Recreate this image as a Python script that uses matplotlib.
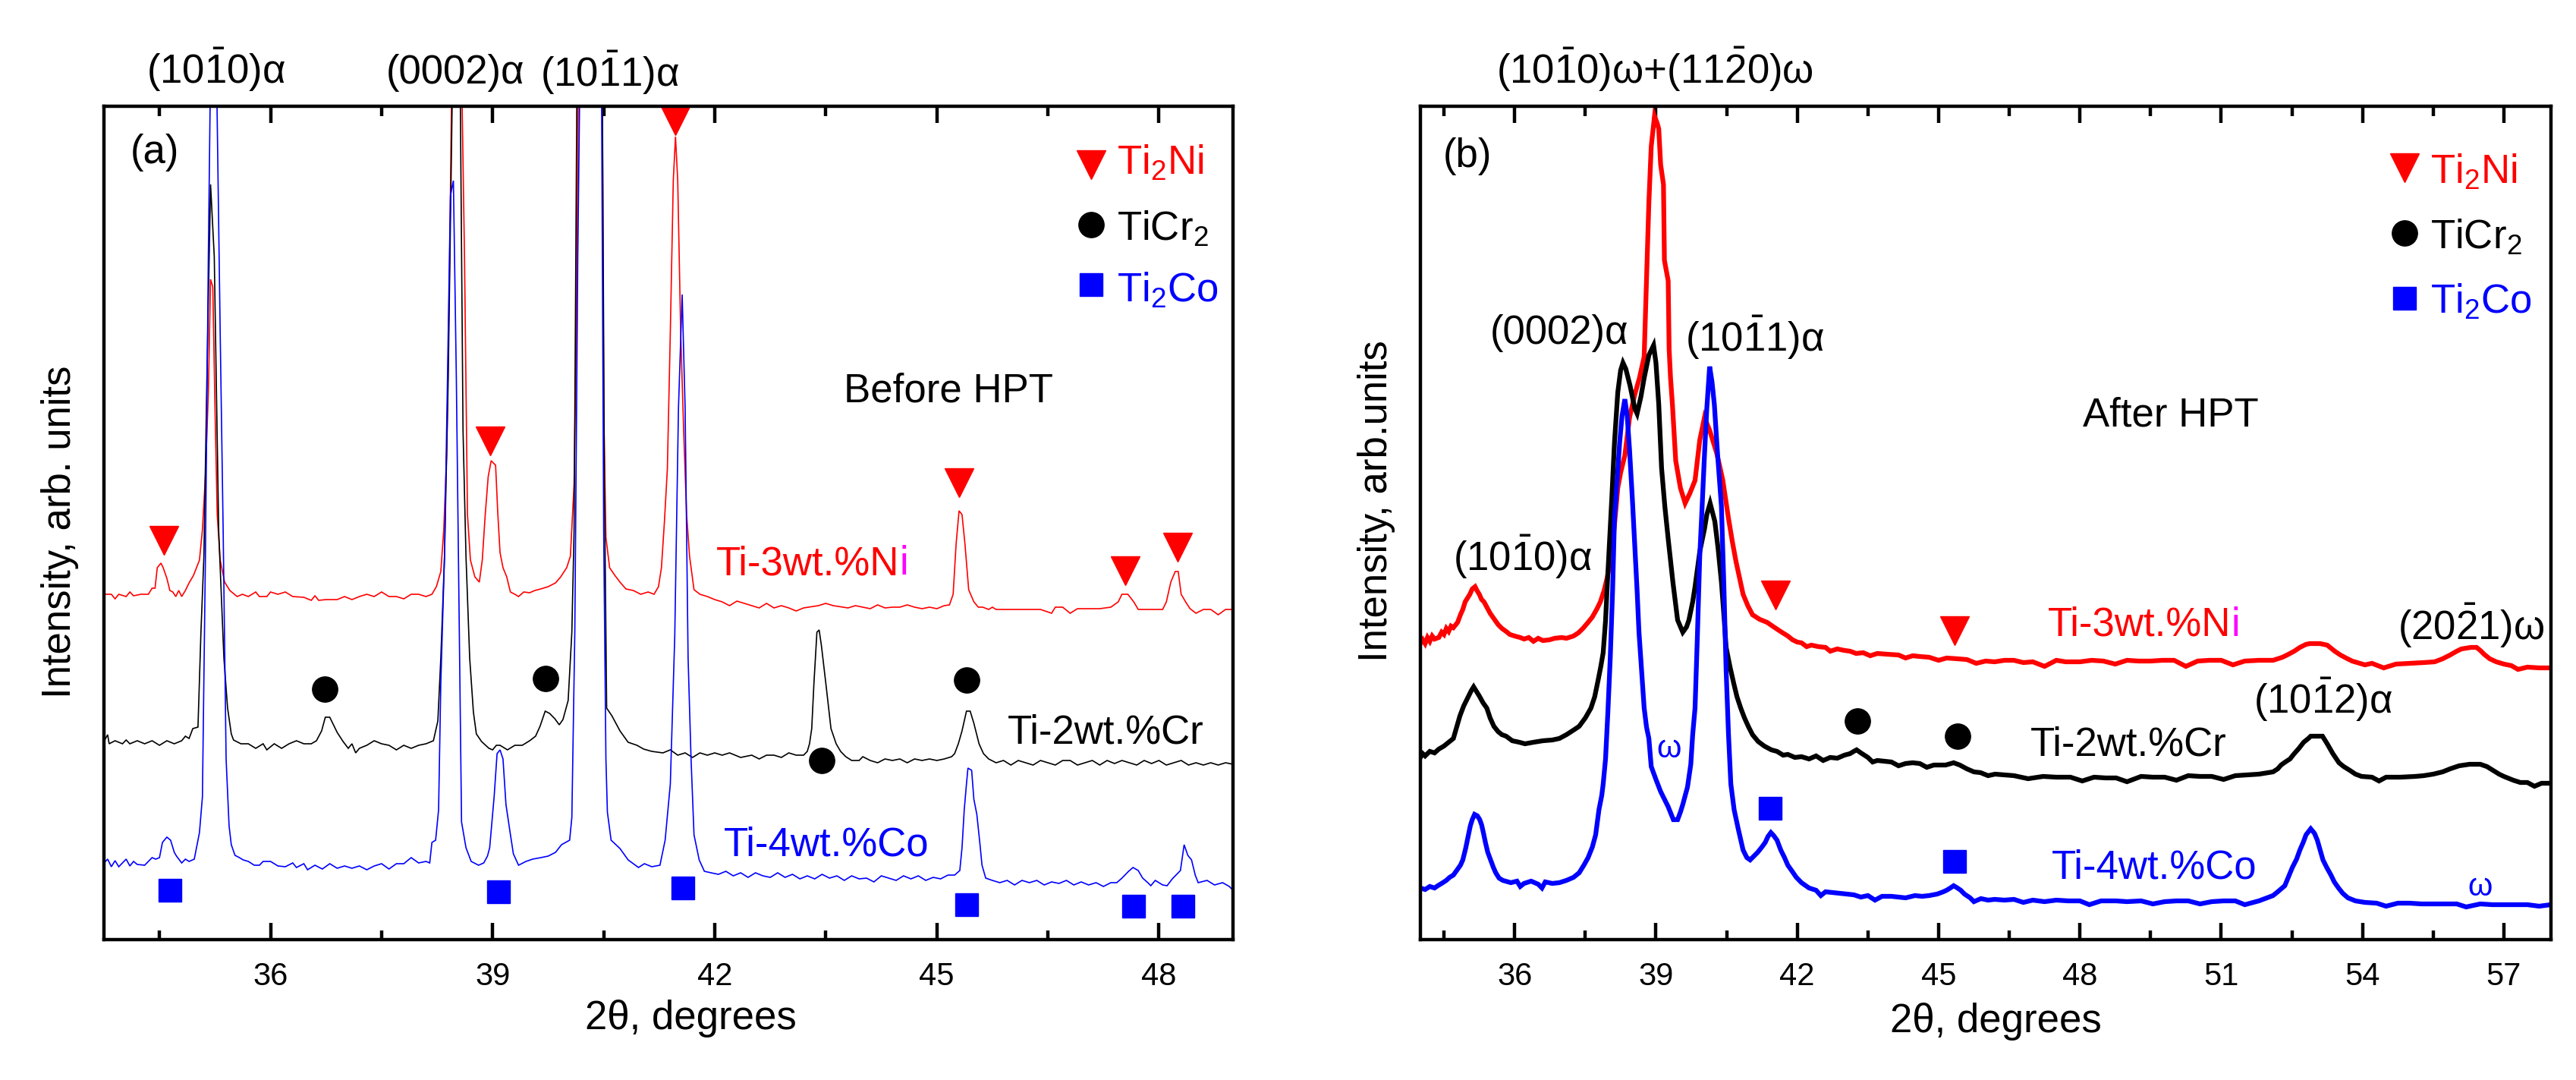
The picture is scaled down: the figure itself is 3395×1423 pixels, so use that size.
import numpy as np
import matplotlib
matplotlib.use("Agg")
import matplotlib.pyplot as plt

# XRD patterns of Ti alloys before (a) and after (b) HPT.
# x = 2theta (degrees), y = intensity in arbitrary units (curves offset, tops clipped)

RED = "#ff0000"
BLUE = "#0000ff"
MAGENTA = "#ff00ff"

# ---------------- panel (a): before HPT ----------------
a_ni = [(33.75, 455), (33.85, 455), (33.9, 449), (33.95, 455), (34.05, 452), (34.1, 458), (34.15, 453),
        (34.25, 455), (34.35, 455), (34.4, 463), (34.44, 463), (34.47, 490), (34.52, 496), (34.55, 490),
        (34.6, 476), (34.64, 460), (34.68, 458), (34.72, 452), (34.76, 460), (34.8, 452), (34.85, 460),
        (34.9, 470), (34.96, 480), (35.04, 500), (35.08, 540), (35.12, 610), (35.16, 720), (35.19, 870),
        (35.22, 860), (35.25, 700), (35.28, 560), (35.32, 500), (35.38, 471), (35.45, 460), (35.55, 452),
        (35.62, 455), (35.7, 452), (35.8, 458), (35.85, 452), (35.95, 452), (36.0, 458), (36.1, 455),
        (36.2, 458), (36.3, 452), (36.45, 451), (36.55, 447), (36.6, 453), (36.65, 447), (36.75, 448),
        (36.9, 448), (37.0, 452), (37.1, 448), (37.2, 452), (37.3, 455), (37.4, 452), (37.5, 458),
        (37.6, 452), (37.7, 452), (37.8, 449), (37.9, 455), (38.0, 455), (38.1, 452), (38.18, 455),
        (38.24, 465), (38.3, 485), (38.34, 540), (38.38, 640), (38.42, 900), (38.45, 1150), (38.58, 1150),
        (38.62, 900), (38.66, 560), (38.7, 500), (38.76, 478), (38.82, 471), (38.86, 500), (38.9, 560),
        (38.94, 610), (38.98, 631), (39.04, 625), (39.07, 561), (39.1, 510), (39.14, 490), (39.19, 478),
        (39.24, 458), (39.3, 455), (39.35, 452), (39.42, 458), (39.5, 457), (39.57, 460), (39.65, 462),
        (39.75, 465), (39.85, 470), (39.92, 478), (40.0, 490), (40.05, 505), (40.1, 600), (40.13, 800),
        (40.16, 1150), (40.48, 1150), (40.5, 700), (40.53, 530), (40.58, 490), (40.65, 480), (40.72, 471),
        (40.8, 462), (40.9, 460), (41.0, 455), (41.1, 458), (41.18, 455), (41.24, 465), (41.28, 490),
        (41.32, 550), (41.36, 620), (41.4, 800), (41.44, 1000), (41.47, 1058), (41.5, 1000), (41.54, 800),
        (41.58, 671), (41.62, 560), (41.66, 505), (41.72, 461), (41.8, 455), (41.9, 452), (42.0, 448),
        (42.1, 445), (42.2, 440), (42.3, 446), (42.4, 443), (42.5, 440), (42.6, 437), (42.7, 443),
        (42.8, 437), (42.9, 440), (43.0, 437), (43.1, 433), (43.2, 437), (43.4, 440), (43.5, 443),
        (43.6, 440), (43.8, 437), (43.9, 440), (44.0, 438), (44.1, 436), (44.2, 441), (44.3, 437),
        (44.4, 438), (44.5, 438), (44.6, 441), (44.7, 438), (44.8, 436), (44.9, 438), (45.0, 436),
        (45.1, 440), (45.17, 441), (45.22, 455), (45.26, 521), (45.3, 565), (45.34, 560), (45.38, 521),
        (45.43, 461), (45.5, 445), (45.56, 438), (45.62, 438), (45.7, 435), (45.75, 438), (45.8, 435),
        (46.0, 435), (46.2, 435), (46.4, 435), (46.55, 430), (46.6, 438), (46.7, 438), (46.8, 430),
        (46.9, 436), (47.0, 436), (47.2, 436), (47.35, 438), (47.45, 445), (47.5, 455), (47.58, 455),
        (47.66, 445), (47.72, 435), (47.9, 435), (48.05, 435), (48.1, 445), (48.16, 471), (48.22, 485),
        (48.26, 485), (48.3, 455), (48.36, 445), (48.42, 436), (48.5, 430), (48.6, 435), (48.7, 435),
        (48.8, 428), (48.9, 435), (49.0, 435)]

a_cr = [(33.75, 261), (33.8, 270), (33.82, 258), (33.9, 262), (34.0, 258), (34.05, 263), (34.1, 258),
        (34.2, 262), (34.3, 258), (34.4, 262), (34.5, 256), (34.6, 262), (34.7, 258), (34.8, 262),
        (34.85, 268), (34.9, 265), (34.95, 278), (35.02, 280), (35.06, 405), (35.1, 505), (35.14, 738),
        (35.19, 995), (35.24, 900), (35.3, 538), (35.37, 371), (35.42, 305), (35.47, 271), (35.5, 263),
        (35.6, 258), (35.7, 258), (35.8, 252), (35.9, 258), (35.95, 250), (36.05, 258), (36.15, 252),
        (36.25, 258), (36.35, 262), (36.45, 258), (36.55, 258), (36.62, 262), (36.69, 275), (36.74, 293),
        (36.8, 293), (36.86, 281), (36.9, 273), (36.98, 261), (37.05, 252), (37.1, 258), (37.15, 246),
        (37.2, 252), (37.3, 256), (37.4, 262), (37.5, 258), (37.6, 256), (37.7, 250), (37.8, 256),
        (37.9, 252), (38.0, 256), (38.1, 258), (38.2, 262), (38.26, 288), (38.3, 371), (38.35, 505),
        (38.4, 738), (38.46, 1150), (38.56, 1150), (38.6, 671), (38.64, 505), (38.69, 371), (38.74, 300),
        (38.78, 271), (38.85, 261), (38.95, 252), (39.0, 250), (39.05, 256), (39.1, 256), (39.2, 250),
        (39.3, 256), (39.4, 256), (39.5, 262), (39.58, 268), (39.64, 281), (39.71, 301), (39.77, 298),
        (39.84, 291), (39.9, 283), (39.95, 290), (40.02, 315), (40.07, 405), (40.1, 538), (40.14, 1150),
        (40.48, 1150), (40.51, 600), (40.54, 305), (40.61, 295), (40.72, 275), (40.83, 260), (40.95, 256),
        (41.04, 251), (41.15, 248), (41.3, 246), (41.4, 250), (41.5, 243), (41.6, 246), (41.7, 240),
        (41.8, 246), (41.9, 243), (42.0, 246), (42.1, 243), (42.2, 246), (42.35, 240), (42.5, 243),
        (42.6, 238), (42.7, 243), (42.8, 243), (42.9, 240), (43.0, 246), (43.1, 243), (43.2, 243),
        (43.25, 248), (43.28, 258), (43.31, 278), (43.34, 338), (43.38, 405), (43.41, 408), (43.44, 388),
        (43.5, 338), (43.57, 278), (43.64, 258), (43.7, 248), (43.77, 241), (43.85, 236), (43.95, 236),
        (44.0, 241), (44.1, 236), (44.2, 233), (44.3, 238), (44.4, 236), (44.5, 238), (44.6, 233),
        (44.7, 238), (44.8, 236), (44.9, 238), (45.0, 236), (45.1, 238), (45.2, 241), (45.24, 245),
        (45.29, 258), (45.34, 275), (45.4, 301), (45.45, 301), (45.5, 285), (45.57, 258), (45.63, 245),
        (45.7, 238), (45.8, 233), (45.9, 236), (46.0, 230), (46.1, 236), (46.2, 233), (46.3, 230),
        (46.4, 236), (46.5, 233), (46.6, 230), (46.7, 236), (46.8, 236), (46.9, 230), (47.0, 233),
        (47.1, 236), (47.2, 230), (47.3, 236), (47.4, 232), (47.5, 236), (47.6, 233), (47.7, 230),
        (47.8, 236), (47.9, 232), (48.0, 236), (48.1, 230), (48.2, 233), (48.3, 236), (48.4, 230),
        (48.5, 233), (48.6, 230), (48.7, 233), (48.8, 230), (48.9, 233), (49.0, 231)]

a_co = [(33.75, 101), (33.8, 106), (33.85, 96), (33.9, 104), (33.95, 96), (34.0, 101), (34.05, 106),
        (34.1, 97), (34.15, 103), (34.2, 99), (34.3, 98), (34.35, 103), (34.4, 108), (34.45, 106),
        (34.5, 108), (34.54, 128), (34.6, 135), (34.65, 131), (34.7, 115), (34.73, 110), (34.8, 101),
        (34.85, 106), (34.9, 103), (34.97, 106), (35.04, 141), (35.08, 188), (35.12, 500), (35.16, 900),
        (35.19, 1150), (35.27, 1150), (35.32, 800), (35.36, 540), (35.4, 238), (35.44, 150), (35.47, 125),
        (35.52, 111), (35.58, 108), (35.63, 105), (35.7, 103), (35.78, 98), (35.85, 98), (35.9, 103),
        (36.0, 103), (36.1, 97), (36.2, 96), (36.3, 101), (36.35, 95), (36.45, 100), (36.5, 92),
        (36.6, 98), (36.7, 93), (36.8, 100), (36.9, 94), (37.0, 97), (37.1, 94), (37.2, 97), (37.3, 92),
        (37.4, 97), (37.5, 100), (37.6, 93), (37.7, 100), (37.8, 100), (37.9, 108), (38.0, 101),
        (38.1, 103), (38.15, 101), (38.18, 128), (38.23, 131), (38.27, 171), (38.3, 338), (38.35, 505),
        (38.39, 738), (38.43, 980), (38.47, 1000), (38.51, 738), (38.55, 405), (38.58, 155), (38.64, 121),
        (38.71, 103), (38.81, 98), (38.88, 101), (38.93, 110), (38.96, 121), (39.02, 188), (39.06, 245),
        (39.1, 250), (39.14, 238), (39.18, 178), (39.23, 145), (39.28, 113), (39.35, 98), (39.45, 103),
        (39.54, 106), (39.65, 108), (39.75, 110), (39.85, 115), (39.93, 125), (40.04, 131), (40.07, 161),
        (40.11, 405), (40.15, 900), (40.18, 1150), (40.47, 1150), (40.5, 538), (40.53, 238), (40.55, 168),
        (40.6, 131), (40.72, 120), (40.83, 105), (40.97, 95), (41.05, 100), (41.15, 96), (41.26, 98),
        (41.33, 131), (41.4, 205), (41.46, 400), (41.51, 700), (41.56, 850), (41.6, 700), (41.64, 371),
        (41.68, 238), (41.72, 138), (41.79, 105), (41.86, 90), (41.95, 88), (42.05, 86), (42.15, 90),
        (42.25, 84), (42.35, 88), (42.45, 82), (42.55, 88), (42.65, 84), (42.75, 82), (42.85, 88),
        (42.95, 82), (43.05, 86), (43.15, 80), (43.25, 84), (43.35, 80), (43.45, 86), (43.55, 81),
        (43.65, 84), (43.75, 78), (43.85, 84), (43.95, 80), (44.05, 81), (44.15, 76), (44.25, 84),
        (44.35, 81), (44.45, 78), (44.55, 84), (44.65, 80), (44.75, 84), (44.85, 78), (44.95, 82),
        (45.05, 80), (45.15, 85), (45.24, 85), (45.31, 91), (45.34, 121), (45.37, 171), (45.4, 205),
        (45.42, 226), (45.47, 223), (45.5, 185), (45.54, 165), (45.58, 128), (45.61, 98), (45.66, 81),
        (45.75, 78), (45.85, 75), (45.95, 78), (46.05, 72), (46.15, 78), (46.25, 75), (46.35, 78),
        (46.45, 72), (46.55, 76), (46.65, 74), (46.75, 78), (46.85, 72), (46.95, 76), (47.05, 72),
        (47.15, 75), (47.25, 70), (47.35, 75), (47.43, 75), (47.5, 81), (47.59, 90), (47.65, 95),
        (47.72, 91), (47.78, 81), (47.85, 75), (47.89, 71), (47.95, 78), (48.05, 72), (48.11, 71),
        (48.18, 80), (48.23, 85), (48.29, 91), (48.34, 125), (48.39, 111), (48.44, 105), (48.49, 85),
        (48.53, 75), (48.65, 78), (48.75, 72), (48.86, 75), (48.95, 70), (49.0, 65)]

# phase markers in (a)
a_ti2ni = [(34.56, 526), (38.97, 657), (41.47, 1079), (45.30, 602), (47.54, 486), (48.25, 517)]
a_ticr2 = [(36.73, 330), (39.71, 344), (43.45, 236), (45.40, 342)]
a_ti2co = [(34.64, 65), (39.08, 63), (41.57, 68), (45.40, 46), (47.66, 44), (48.32, 44)]

# ---------------- panel (b): after HPT ----------------
b_ni = [(34.0, 390), (34.05, 395), (34.1, 390), (34.15, 398), (34.2, 393), (34.25, 400), (34.3, 396),
        (34.39, 398), (34.45, 405), (34.5, 402), (34.55, 410), (34.6, 406), (34.65, 413), (34.7, 411),
        (34.79, 418), (34.85, 428), (34.9, 435), (34.95, 445), (35.0, 450), (35.05, 455), (35.1, 462),
        (35.16, 465), (35.2, 460), (35.25, 455), (35.3, 448), (35.35, 445), (35.41, 438), (35.48, 430),
        (35.56, 423), (35.65, 415), (35.73, 410), (35.82, 406), (35.9, 402), (36.0, 400), (36.12, 398),
        (36.2, 396), (36.3, 398), (36.4, 393), (36.5, 397), (36.6, 394), (36.74, 395), (36.85, 397),
        (37.0, 398), (37.1, 397), (37.25, 400), (37.35, 404), (37.45, 410), (37.56, 418), (37.65, 425),
        (37.75, 436), (37.82, 445), (37.9, 460), (37.97, 478), (38.03, 500), (38.08, 521), (38.14, 560),
        (38.19, 595), (38.25, 615), (38.34, 638), (38.44, 688), (38.55, 718), (38.65, 740), (38.75, 768),
        (38.8, 871), (38.85, 971), (38.9, 1045), (38.97, 1085), (39.03, 1075), (39.06, 1068), (39.1, 1021),
        (39.16, 995), (39.18, 895), (39.26, 868), (39.28, 778), (39.31, 740), (39.35, 705), (39.42, 631),
        (39.52, 595), (39.62, 575), (39.72, 588), (39.83, 605), (39.93, 658), (40.03, 688), (40.14, 671),
        (40.22, 655), (40.29, 641), (40.36, 622), (40.42, 605), (40.54, 555), (40.62, 525), (40.7, 498),
        (40.78, 475), (40.85, 455), (40.95, 440), (41.05, 428), (41.2, 422), (41.36, 418), (41.5, 412),
        (41.67, 405), (41.8, 400), (41.9, 395), (42.0, 392), (42.09, 391), (42.2, 386), (42.3, 388),
        (42.45, 386), (42.6, 385), (42.7, 380), (42.85, 383), (43.0, 381), (43.12, 380), (43.25, 377),
        (43.4, 378), (43.55, 374), (43.7, 377), (43.9, 376), (44.15, 375), (44.3, 371), (44.45, 374),
        (44.6, 373), (44.8, 372), (45.0, 368), (45.17, 371), (45.4, 370), (45.6, 369), (45.8, 364),
        (46.0, 367), (46.19, 366), (46.4, 368), (46.6, 368), (46.8, 365), (47.0, 366), (47.25, 360),
        (47.5, 368), (47.7, 366), (48.0, 366), (48.25, 368), (48.5, 367), (48.75, 363), (49.0, 368),
        (49.25, 367), (49.5, 367), (49.75, 368), (50.0, 368), (50.25, 360), (50.5, 367), (50.75, 368),
        (51.0, 368), (51.25, 362), (51.5, 367), (51.8, 368), (52.1, 368), (52.3, 372),
        (52.43, 376), (52.55, 380), (52.67, 385), (52.8, 389), (52.88, 390), (53.1, 390), (53.25, 388),
        (53.33, 384), (53.41, 380), (53.53, 375), (53.65, 371), (53.78, 367), (53.89, 365), (54.05, 362),
        (54.2, 364), (54.45, 358), (54.71, 363), (55.0, 364), (55.3, 365), (55.53, 366), (55.7, 370),
        (55.86, 375), (56.0, 380), (56.1, 383), (56.3, 385), (56.42, 385), (56.5, 381), (56.58, 376),
        (56.7, 370), (56.84, 366), (57.0, 363), (57.16, 361), (57.3, 356), (57.5, 359), (57.75, 358),
        (58.0, 358)]

b_cr = [(34.0, 240), (34.05, 245), (34.1, 242), (34.2, 248), (34.3, 246), (34.39, 251), (34.5, 255),
        (34.6, 260), (34.7, 265), (34.77, 280), (34.84, 295), (34.92, 308), (35.0, 318), (35.08, 328),
        (35.13, 333), (35.18, 328), (35.25, 321), (35.33, 312), (35.41, 305), (35.48, 292), (35.56, 281),
        (35.65, 274), (35.73, 270), (35.82, 268), (35.95, 262), (36.1, 260), (36.22, 258), (36.4, 260),
        (36.6, 262), (36.8, 263), (36.95, 265), (37.1, 270), (37.25, 276), (37.37, 281), (37.5, 292),
        (37.62, 305), (37.7, 320), (37.77, 341), (37.83, 360), (37.88, 378), (37.93, 420), (37.97, 471),
        (38.02, 530), (38.06, 578), (38.12, 655), (38.19, 721), (38.25, 750), (38.3, 760), (38.36, 752),
        (38.45, 730), (38.55, 700), (38.6, 693), (38.68, 715), (38.75, 740), (38.85, 770), (38.95, 783),
        (39.0, 760), (39.06, 705), (39.12, 621), (39.19, 570), (39.26, 528), (39.36, 471), (39.46, 421),
        (39.57, 405), (39.65, 412), (39.7, 421), (39.78, 445), (39.83, 465), (39.93, 511), (40.03, 541),
        (40.08, 560), (40.15, 575), (40.25, 551), (40.32, 515), (40.39, 471), (40.44, 430), (40.49, 385),
        (40.57, 360), (40.65, 338), (40.72, 320), (40.8, 305), (40.88, 292), (40.96, 281), (41.05, 270),
        (41.17, 261), (41.3, 255), (41.45, 250), (41.57, 248), (41.7, 243), (41.8, 244), (41.95, 240),
        (42.09, 241), (42.25, 238), (42.4, 242), (42.55, 236), (42.7, 240), (42.85, 239), (43.0, 243),
        (43.12, 245), (43.2, 248), (43.26, 250), (43.35, 246), (43.5, 240), (43.6, 234), (43.7, 236),
        (43.85, 235), (44.0, 234), (44.15, 229), (44.3, 232), (44.45, 233), (44.6, 232), (44.75, 227),
        (44.9, 230), (45.15, 230), (45.32, 233), (45.45, 230), (45.6, 225), (45.75, 221), (45.89, 220),
        (46.05, 216), (46.2, 218), (46.4, 217), (46.6, 216), (46.9, 212), (47.22, 215), (47.5, 214),
        (47.8, 214), (48.05, 209), (48.3, 214), (48.55, 213), (48.77, 213), (49.0, 208), (49.3, 215),
        (49.55, 214), (49.8, 214), (50.05, 210), (50.3, 216), (50.55, 215), (50.8, 215), (51.05, 211),
        (51.3, 216), (51.55, 217), (51.8, 218), (52.1, 221), (52.2, 225), (52.27, 230), (52.36, 234),
        (52.46, 238), (52.55, 245), (52.65, 252), (52.75, 260), (52.85, 265), (52.9, 268), (53.15, 268),
        (53.25, 258), (53.37, 245), (53.5, 233), (53.6, 228), (53.73, 223), (53.85, 218), (53.98, 215),
        (54.2, 214), (54.35, 209), (54.5, 214), (54.8, 214), (55.12, 215), (55.3, 216), (55.5, 218),
        (55.7, 221), (55.86, 225), (56.05, 229), (56.27, 231), (56.5, 231), (56.64, 228), (56.77, 223),
        (56.9, 218), (57.0, 215), (57.2, 210), (57.35, 207), (57.5, 207), (57.65, 202), (57.8, 206),
        (58.0, 206)]

b_co = [(34.0, 68), (34.1, 66), (34.2, 70), (34.3, 68), (34.37, 71), (34.45, 74), (34.55, 78),
        (34.62, 82), (34.7, 85), (34.78, 92), (34.85, 98), (34.9, 105), (34.96, 120), (35.02, 138),
        (35.06, 150), (35.1, 158), (35.15, 165), (35.21, 163), (35.26, 158), (35.3, 151), (35.34, 140),
        (35.38, 128), (35.43, 115), (35.49, 105), (35.55, 95), (35.6, 88), (35.67, 81), (35.75, 78),
        (35.92, 75), (36.05, 77), (36.12, 70), (36.2, 74), (36.35, 77), (36.5, 73), (36.58, 68),
        (36.65, 76), (36.8, 74), (36.95, 75), (37.1, 78), (37.25, 82), (37.37, 88), (37.47, 98),
        (37.56, 108), (37.65, 122), (37.72, 138), (37.79, 171), (37.85, 190), (37.88, 205), (37.93, 238),
        (37.98, 300), (38.03, 371), (38.08, 460), (38.12, 555), (38.18, 610), (38.23, 655), (38.28, 690),
        (38.34, 712), (38.39, 690), (38.44, 645), (38.5, 580), (38.55, 521), (38.6, 460), (38.64, 405),
        (38.7, 350), (38.75, 305), (38.8, 280), (38.85, 265), (38.9, 228), (39.0, 211), (39.1, 195),
        (39.18, 185), (39.26, 175), (39.37, 158), (39.46, 158), (39.52, 168), (39.57, 178), (39.67, 201),
        (39.74, 231), (39.78, 270), (39.83, 305), (39.88, 400), (39.93, 505), (39.98, 570), (40.03, 638),
        (40.08, 700), (40.14, 755), (40.19, 735), (40.24, 705), (40.31, 638), (40.39, 571), (40.44, 471),
        (40.49, 355), (40.54, 271), (40.59, 205), (40.66, 171), (40.75, 145), (40.85, 118), (40.93, 108),
        (41.0, 105), (41.08, 110), (41.16, 115), (41.25, 122), (41.32, 128), (41.38, 136), (41.44, 141),
        (41.5, 137), (41.57, 131), (41.65, 118), (41.73, 108), (41.8, 98), (41.88, 91), (41.98, 82),
        (42.09, 75), (42.25, 68), (42.4, 65), (42.5, 58), (42.6, 63), (42.75, 62), (42.9, 61), (43.05, 60),
        (43.2, 59), (43.35, 56), (43.5, 58), (43.65, 52), (43.8, 57), (44.0, 57), (44.15, 56), (44.3, 55),
        (44.5, 58), (44.65, 57), (44.8, 58), (44.97, 60), (45.1, 63), (45.17, 65), (45.25, 68),
        (45.32, 71), (45.4, 68), (45.47, 65), (45.55, 60), (45.67, 55), (45.75, 50), (45.9, 54),
        (46.05, 52), (46.19, 53), (46.4, 52), (46.6, 53), (46.8, 49), (47.0, 52), (47.25, 50), (47.5, 52),
        (47.75, 51), (48.0, 51), (48.2, 46), (48.45, 51), (48.77, 51), (49.0, 50), (49.3, 51),
        (49.55, 47), (49.8, 50), (50.05, 51), (50.3, 51), (50.55, 47), (50.8, 50), (51.05, 51),
        (51.3, 51), (51.5, 46), (51.8, 51), (52.1, 58), (52.2, 63), (52.35, 71), (52.43, 83), (52.51, 95),
        (52.6, 106), (52.67, 118), (52.74, 128), (52.8, 138), (52.9, 146), (52.98, 140), (53.04, 131),
        (53.1, 118), (53.16, 105), (53.24, 95), (53.33, 85), (53.4, 76), (53.49, 68), (53.58, 61),
        (53.69, 55), (53.85, 51), (54.05, 49), (54.3, 48), (54.5, 44), (54.75, 48), (55.0, 48),
        (55.25, 47), (55.5, 47), (55.75, 47), (56.0, 47), (56.2, 43), (56.5, 47), (56.75, 46),
        (57.0, 46), (57.25, 46), (57.5, 46), (57.75, 44), (58.0, 46)]

# phase markers in (b)
b_ti2ni = [(41.54, 454), (45.34, 407)]
b_ticr2 = [(43.28, 288), (45.40, 268)]
b_ti2co = [(41.43, 173), (45.34, 103)]

# phase legend entries: (marker, colour, label)
phase_legend = [("v", RED, r"Ti$_2$Ni"), ("o", "black", r"TiCr$_2$"), ("s", BLUE, r"Ti$_2$Co")]

plt.rcParams["font.family"] = ["Liberation Sans", "DejaVu Sans"]
plt.rcParams["mathtext.fontset"] = "custom"
plt.rcParams["mathtext.rm"] = "Liberation Sans"
plt.rcParams["mathtext.it"] = "Liberation Sans:italic"
plt.rcParams["mathtext.bf"] = "Liberation Sans:bold"

FS = 38       # labels / annotations
FS_TICK = 30  # tick labels
MS = {"v": 27, "o": 24, "s": 22}


def style_axes(ax, xlim, major, minor):
    ax.set_xlim(*xlim)
    ax.set_ylim(0, 1098)
    for sp in ax.spines.values():
        sp.set_linewidth(3.2)
    ax.set_xticks(major)
    ax.set_xticks(minor, minor=True)
    ax.set_yticks([])
    ax.tick_params(axis="x", which="both", direction="in", top=True, bottom=True,
                   width=3.2, labelsize=FS_TICK, pad=21)
    ax.tick_params(axis="x", which="major", length=16)
    ax.tick_params(axis="x", which="minor", length=9)


def curve(ax, pts, color, lw):
    arr = np.array(pts, dtype=float).T
    ax.plot(arr[0], arr[1], color=color, lw=lw, solid_joinstyle="miter")


def markers(ax, pts, marker, color):
    arr = np.array(pts, dtype=float).T
    ax.plot(arr[0], arr[1], ls="none", marker=marker, ms=MS[marker], color=color, mec=color,
            clip_on=False)


def phase_key(ax, x_mark, x_text, ys):
    for (m, c, lab), (ym, yt) in zip(phase_legend, ys):
        ax.plot([x_mark], [ym], ls="none", marker=m, ms=MS[m], color=c, mec=c)
        ax.text(x_text, yt, lab, color=c, fontsize=FS, va="baseline", ha="left")


def two_tone(ax, x, y, main, tail, c_main, c_tail):
    t = ax.text(x, y, main, color=c_main, fontsize=FS, va="baseline", ha="left")
    ax.annotate(tail, xy=(1, 0), xycoords=t, color=c_tail, fontsize=FS, va="bottom", ha="left")


fig = plt.figure(figsize=(33.95, 14.23), dpi=100)
H = 1423.0
W = 3395.0
ax_a = fig.add_axes([137 / W, 1 - 1238 / H, (1625 - 137) / W, (1238 - 140) / H])
ax_b = fig.add_axes([1872 / W, 1 - 1238 / H, (3362 - 1872) / W, (1238 - 140) / H])

# ---- (a) ----
style_axes(ax_a, (33.75, 49.0), [36, 39, 42, 45, 48], [34.5, 37.5, 40.5, 43.5, 46.5])
curve(ax_a, a_ni, RED, 1.2)
curve(ax_a, a_cr, "black", 1.2)
curve(ax_a, a_co, BLUE, 1.2)
markers(ax_a, a_ti2ni, "v", RED)
markers(ax_a, a_ticr2, "o", "black")
markers(ax_a, a_ti2co, "s", BLUE)

ax_a.set_xlabel("2θ, degrees", fontsize=FS)
ax_a.xaxis.set_label_coords(0.52, -0.072)
ax_a.set_ylabel("Intensity, arb. units", fontsize=FS)
ax_a.yaxis.set_label_coords(-0.022, 0.489)

ax_a.text(34.11, 1023, "(a)", fontsize=FS, va="baseline")
ax_a.text(43.74, 709, "Before HPT", fontsize=FS, va="baseline")
two_tone(ax_a, 42.02, 481, "Ti-3wt.%N", "i", RED, MAGENTA)
ax_a.text(45.95, 258, "Ti-2wt.%Cr", fontsize=FS, va="baseline")
ax_a.text(42.12, 111, "Ti-4wt.%Co", fontsize=FS, va="baseline", color=BLUE)
ax_a.text(34.32, 1128, r"(10$\bar{1}$0)α", fontsize=FS, va="baseline")
ax_a.text(37.56, 1128, "(0002)α", fontsize=FS, va="baseline")
ax_a.text(39.64, 1124, r"(10$\bar{1}$1)α", fontsize=FS, va="baseline")
phase_key(ax_a, 47.08, 47.43, [(1021, 1008), (942, 921), (863, 840)])

# ---- (b) ----
style_axes(ax_b, (34.0, 58.0), [36, 39, 42, 45, 48, 51, 54, 57],
           [34.5, 37.5, 40.5, 43.5, 46.5, 49.5, 52.5, 55.5])
curve(ax_b, b_ni, RED, 4.5)
curve(ax_b, b_cr, "black", 4.5)
curve(ax_b, b_co, BLUE, 4.5)
markers(ax_b, b_ti2ni, "v", RED)
markers(ax_b, b_ticr2, "o", "black")
markers(ax_b, b_ti2co, "s", BLUE)

ax_b.set_xlabel("2θ, degrees", fontsize=FS)
ax_b.xaxis.set_label_coords(0.509, -0.076)
ax_b.set_ylabel("Intensity, arb.units", fontsize=FS)
ax_b.yaxis.set_label_coords(-0.022, 0.526)

ax_b.text(34.48, 1018, "(b)", fontsize=FS, va="baseline")
ax_b.text(35.61, 1128, r"(10$\bar{1}$0)ω+(11$\bar{2}$0)ω", fontsize=FS, va="baseline")
ax_b.text(35.47, 785, "(0002)α", fontsize=FS, va="baseline")
ax_b.text(39.62, 775, r"(10$\bar{1}$1)α", fontsize=FS, va="baseline")
ax_b.text(34.69, 486, r"(10$\bar{1}$0)α", fontsize=FS, va="baseline")
ax_b.text(48.06, 677, "After HPT", fontsize=FS, va="baseline")
two_tone(ax_b, 47.32, 400, "Ti-3wt.%N", "i", RED, MAGENTA)
ax_b.text(54.75, 395, r"(20$\bar{2}$1)ω", fontsize=FS, va="baseline")
ax_b.text(51.69, 298, r"(10$\bar{1}$2)α", fontsize=FS, va="baseline")
ax_b.text(46.95, 243, "Ti-2wt.%Cr", fontsize=FS, va="baseline")
ax_b.text(47.4, 81, "Ti-4wt.%Co", fontsize=FS, va="baseline", color=BLUE)
ax_b.text(56.23, 58, "ω", fontsize=30, va="baseline", color=BLUE)
ax_b.text(39.01, 240, "ω", fontsize=30, va="baseline", color=BLUE)
phase_key(ax_b, 54.89, 55.44, [(1017, 996), (931, 910), (845, 825)])

fig.savefig("out.png", dpi=100)
